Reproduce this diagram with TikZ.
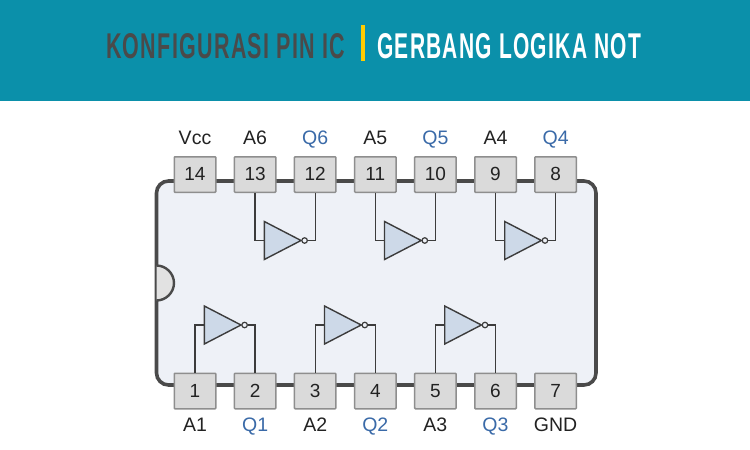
\documentclass[tikz,border=0pt]{standalone}
\usepackage{fontspec}
\setmainfont{Liberation Sans}
\newfontfamily\titlefont[LetterSpace=6]{Liberation Sans Bold}
\definecolor{teal0}{HTML}{0B90AA}
\definecolor{titlegrey}{HTML}{4A4A4A}
\definecolor{barcol}{HTML}{FFCC00}
\definecolor{bodyfill}{HTML}{EEF1F7}
\definecolor{bodyline}{HTML}{4A4A4A}
\definecolor{pinfill}{HTML}{DADADA}
\definecolor{notchfill}{HTML}{E2E2E2}
\definecolor{pinline}{HTML}{8E8E8E}
\definecolor{gatefill}{HTML}{CDD9E8}
\definecolor{gateline}{HTML}{3C3C3C}
\definecolor{qblue}{HTML}{3A6AA8}
\definecolor{lblack}{HTML}{222222}
\tikzset{
  pinbox/.style={draw=pinline,fill=pinfill,line width=1.5pt,minimum width=41.5pt,minimum height=35.5pt,inner sep=0pt,rounded corners=0.8pt},
  pindigit/.style={inner sep=0pt,anchor=base,text=lblack,font=\fontsize{19}{19}\selectfont},
  alabel/.style={inner sep=0pt,anchor=base,text=lblack,font=\fontsize{19.5}{19.5}\selectfont},
  qlabel/.style={alabel,text=qblue},
  wire/.style={draw=gateline,line width=1.4pt},
  gatebody/.style={draw=gateline,fill=gatefill,line width=1.4pt,line join=miter},
  bubble/.style={circle,draw=gateline,fill=bodyfill,line width=1.2pt,minimum size=5.5pt,inner sep=0pt},
  titletext/.style={inner sep=0pt,anchor=west}
}
\begin{document}
\begin{tikzpicture}[x=1pt,y=-1pt]
\useasboundingbox (0,0) rectangle (750,450);
\fill[white] (0,0) rectangle (750,450);
\fill[teal0] (0,0) rectangle (750,100.5);
\fill[barcol] (361,25) rectangle (365,61);
\node[titletext,text=titlegrey] (t1) at (106,46.5) {\resizebox{239pt}{25pt}{\titlefont KONFIGURASI PIN IC}};
\node[titletext,text=white] (t2) at (377,46.5) {\resizebox{264pt}{25pt}{\titlefont GERBANG LOGIKA NOT}};
% body
\draw[draw=bodyline,fill=bodyfill,line width=3.6pt,rounded corners=12pt] (156.5,181) rectangle (596,385);
\draw[draw=bodyline,fill=notchfill,line width=2.4pt] (156.5,265.5) .. controls (166,265.5) and (174,273.5) .. (174,283) .. controls (174,292.5) and (166,300.5) .. (156.5,300.5);
% pins
\foreach \n/\i/\t/\s in {14/0/Vcc/alabel,13/1/A6/alabel,12/2/Q6/qlabel,11/3/A5/alabel,10/4/Q5/qlabel,9/5/A4/alabel,8/6/Q4/qlabel}{
  \node[pinbox] (p\n) at ({195+\i*60.1},174.5) {};
  \node[pindigit] (d\n) at ({195+\i*60.1},180) {\n};
  \node[\s] (l\n) at ({195+\i*60.1},144) {\t};
}
\foreach \n/\i/\t/\s in {1/0/A1/alabel,2/1/Q1/qlabel,3/2/A2/alabel,4/3/Q2/qlabel,5/4/A3/alabel,6/5/Q3/qlabel,7/6/GND/alabel}{
  \node[pinbox] (p\n) at ({195+\i*60.1},391) {};
  \node[pindigit] (d\n) at ({195+\i*60.1},397.5) {\n};
  \node[\s] (l\n) at ({195+\i*60.1},431.5) {\t};
}
% gates
\foreach \g/\dx/\y/\a/\b in {g6/0/240.5/p13/p12,g5/120.2/240.5/p11/p10,g4/240.4/240.5/p9/p8}{
  \coordinate (\g in) at ({264.3+\dx},\y);
  \draw[gatebody] ({264.3+\dx},\y-19) -- ({264.3+\dx},\y+19) -- ({301+\dx},\y) -- cycle;
  \node[bubble] (\g b) at ({304.6+\dx},\y) {};
  \draw[wire] (\a.south) |- (\g in);
  \draw[wire] (\g b.east) -| (\b.south);
}
\foreach \g/\dx/\y/\a/\b in {g1/0/325/p1/p2,g2/120.2/325/p3/p4,g3/240.4/325/p5/p6}{
  \coordinate (\g in) at ({204.3+\dx},\y);
  \draw[gatebody] ({204.3+\dx},\y-19) -- ({204.3+\dx},\y+19) -- ({241+\dx},\y) -- cycle;
  \node[bubble] (\g b) at ({244.6+\dx},\y) {};
  \draw[wire] (\a.north) |- (\g in);
  \draw[wire] (\g b.east) -| (\b.north);
}
\end{tikzpicture}
\end{document}
